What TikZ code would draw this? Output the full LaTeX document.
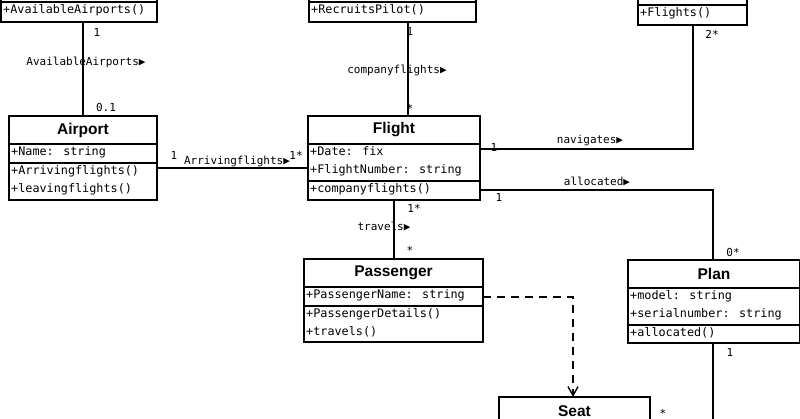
\documentclass[tikz,border=0pt]{standalone}
\usepackage{fontspec}
\setmainfont{DejaVu Sans Mono}
\newfontfamily\titlefont{Liberation Sans}
\usetikzlibrary{arrows.meta}

\tikzset{
  part/.style={draw, line width=1.2pt, inner sep=0pt, outer sep=0pt},
  txt/.style={inner sep=2pt, align=left, font=\fontsize{11.8}{18}\selectfont},
  ttl/.style={font=\titlefont\bfseries\fontsize{15.5}{18}\selectfont},
  lbl/.style={inner sep=1pt, font=\fontsize{11}{12}\selectfont},
  assoc/.style={line width=1.2pt},
  dep/.style={line width=1.4pt, dash pattern=on 8pt off 6pt, -{Straight Barb[length=9pt,width=10pt,line width=1.4pt]}}
}

% class box: name, x, y, width, title, attributes, attr height, operations, ops height
\newcommand{\umlclassbox}[9]{
  \node[part, minimum width=#4, minimum height=28, anchor=north west] (#1) at (#2,#3) {};
  \node[ttl] at (#1.center) {#5};
  \node[part, minimum width=#4, minimum height=#7, anchor=north] (#1-a) at (#1.south) {};
  \node[txt, anchor=north west] at (#1-a.north west) {#6};
  \node[part, minimum width=#4, minimum height=#9, anchor=north] (#1-o) at (#1-a.south) {};
  \node[txt, anchor=north west] at (#1-o.north west) {#8};
}

\begin{document}
\begin{tikzpicture}[x=1pt,y=-1pt]
  \useasboundingbox (0,0) rectangle (800,419);
  \clip (0,0) rectangle (800,419);

  % partly visible classes at the top
  \node[part, minimum width=156, minimum height=28, anchor=south west] (airline) at (1,2) {};
  \node[part, minimum width=156, minimum height=20, anchor=north] (airline-o) at (airline.south) {};
  \node[txt, anchor=north west] at (airline-o.north west) {+AvailableAirports()};

  \node[part, minimum width=167, minimum height=28, anchor=south west] (company) at (309,2) {};
  \node[part, minimum width=167, minimum height=20, anchor=north] (company-o) at (company.south) {};
  \node[txt, anchor=north west] at (company-o.north west) {+RecruitsPilot()};

  \node[part, minimum width=109, minimum height=28, anchor=south west] (pilot) at (638,5) {};
  \node[part, minimum width=109, minimum height=20, anchor=north] (pilot-o) at (pilot.south) {};
  \node[txt, anchor=north west] at (pilot-o.north west) {+Flights()};

  % main classes
  \umlclassbox{airport}{9}{116}{148}{Airport}{+Name: string}{19}{+Arrivingflights()\\+leavingflights()}{37}
  \umlclassbox{flight}{308}{116}{172}{Flight}{+Date: fix\\+FlightNumber: string}{37}{+companyflights()}{19}
  \umlclassbox{passenger}{304}{259}{179}{Passenger}{+PassengerName: string}{19}{+PassengerDetails()\\+travels()}{36}
  \umlclassbox{plan}{628}{260}{172}{Plan}{+model: string\\+serialnumber: string}{37}{+allocated()}{18}
  \node[part, minimum width=151, minimum height=28, anchor=north west] (seat) at (499,397) {};
  \node[ttl] at (seat.center) {Seat};

  % associations
  \draw[assoc] (airline-o.south -| 83,0) -- (airport.north -| 83,0);
  \node[lbl] at (97,32) {1};
  \node[lbl] at (86,62) {AvailableAirports▶};
  \node[lbl] at (106,107) {0.1};

  \draw[assoc] (company-o.south -| 408,0) -- (flight.north -| 408,0);
  \node[lbl] at (410,31) {1};
  \node[lbl] at (397,70) {companyflights▶};
  \node[lbl] at (410,108) {*};

  \draw[assoc] (pilot-o.south -| 693,0) |- (flight-a.east |- 0,149);
  \node[lbl] at (712,34) {2*};
  \node[lbl] at (590,141) {navigates▶};
  \node[lbl] at (494,147) {1};

  \draw[assoc] (airport-o.east |- 0,168) -- (flight-a.west |- 0,168);
  \node[lbl] at (174,155) {1};
  \node[lbl] at (237,161) {Arrivingflights▶};
  \node[lbl] at (296,155) {1*};

  \draw[assoc] (flight-o.east |- 0,190) -| (plan.north -| 713,0);
  \node[lbl] at (597,182) {allocated▶};
  \node[lbl] at (499,197) {1};
  \node[lbl] at (733,252) {0*};

  \draw[assoc] (flight-o.south) -- (passenger.north -| flight-o.south);
  \node[lbl] at (414,208) {1*};
  \node[lbl] at (384,227) {travels▶};
  \node[lbl] at (410,250) {*};

  \draw[assoc] (plan-o.south -| 713,0) -- (713,425);
  \node[lbl] at (730,352) {1};
  \node[lbl] at (663,413) {*};

  \draw[dep] (passenger-a.east |- 0,297) -| (seat.north -| 573,0);
\end{tikzpicture}
\end{document}
